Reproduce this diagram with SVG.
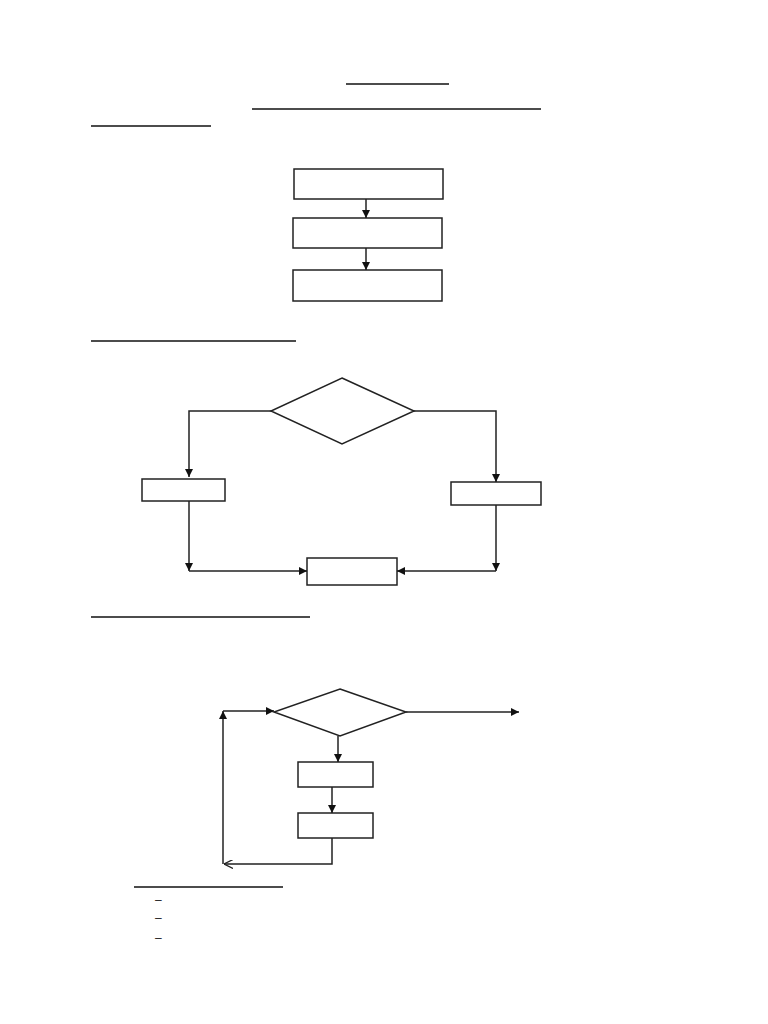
<svg xmlns="http://www.w3.org/2000/svg" width="768" height="1024" viewBox="0 0 768 1024">
<style>
.n{fill:#fff;stroke:#222;stroke-width:1.5}
.c{fill:none;stroke:#222;stroke-width:1.5}
.u{stroke:#111;stroke-width:1.5}
.t{font-family:"Liberation Sans",Arial,sans-serif;font-size:12px;fill:#222}
</style>
<defs>
<marker id="a" viewBox="0 0 10 10" refX="10" refY="5" markerWidth="8" markerHeight="8" markerUnits="userSpaceOnUse" orient="auto"><path d="M0,0L10,5L0,10z" fill="#111"/></marker>
<marker id="o" viewBox="0 0 10 10" refX="10" refY="5" markerWidth="9" markerHeight="9" markerUnits="userSpaceOnUse" orient="auto"><path d="M0,0L10,5L0,10" fill="none" stroke="#222" stroke-width="1.4"/></marker>
</defs>
<rect width="768" height="1024" fill="#fff"/>
<g id="underlines">
<line class="u" x1="346" y1="84" x2="449" y2="84"/>
<line class="u" x1="252" y1="109" x2="541" y2="109" stroke-width="2.4"/>
<line class="u" x1="91" y1="126" x2="211" y2="126"/>
<line class="u" x1="91" y1="341" x2="296" y2="341" stroke-width="2"/>
<line class="u" x1="91" y1="617" x2="310" y2="617"/>
<line class="u" x1="134" y1="887" x2="283" y2="887" stroke-width="2.2"/>
</g>
<g id="s1-box1"><rect class="n" x="294" y="169" width="149" height="30"/></g>
<g id="s1-box2"><rect class="n" x="293" y="218" width="149" height="30"/></g>
<g id="s1-box3"><rect class="n" x="293" y="270" width="149" height="31"/></g>
<g id="s2-diamond"><polygon class="n" points="342,378 414,411 342,444 271,411"/></g>
<g id="s2-left"><rect class="n" x="142" y="479" width="83" height="22"/></g>
<g id="s2-right"><rect class="n" x="451" y="482" width="90" height="23"/></g>
<g id="s2-join"><rect class="n" x="307" y="558" width="90" height="27"/></g>
<g id="s3-diamond"><polygon class="n" points="340,689 406,712 340,736 274,712"/></g>
<g id="s3-box1"><rect class="n" x="298" y="762" width="75" height="25"/></g>
<g id="s3-box2"><rect class="n" x="298" y="813" width="75" height="25"/></g>
<g id="connectors">
<line class="c" x1="366" y1="199" x2="366" y2="218" marker-end="url(#a)"/>
<line class="c" x1="366" y1="248" x2="366" y2="270" marker-end="url(#a)"/>
<polyline class="c" points="271,411 189,411 189,477" marker-end="url(#a)"/>
<polyline class="c" points="414,411 496,411 496,482" marker-end="url(#a)"/>
<line class="c" x1="189" y1="501" x2="189" y2="571" marker-end="url(#a)"/>
<line class="c" x1="189" y1="571" x2="307" y2="571" marker-end="url(#a)"/>
<line class="c" x1="496" y1="505" x2="496" y2="571" marker-end="url(#a)"/>
<line class="c" x1="496" y1="571" x2="397" y2="571" marker-end="url(#a)"/>
<line class="c" x1="406" y1="712" x2="519" y2="712" marker-end="url(#a)"/>
<line class="c" x1="338" y1="736" x2="338" y2="762" marker-end="url(#a)"/>
<line class="c" x1="332" y1="787" x2="332" y2="813" marker-end="url(#a)"/>
<polyline class="c" points="332,838 332,864 224,864" marker-end="url(#o)"/>
<line class="c" x1="223" y1="864" x2="223" y2="711" marker-end="url(#a)"/>
<line class="c" x1="223" y1="711" x2="274" y2="711" marker-end="url(#a)"/>
</g>
<g id="bullets">
<text class="t" x="155" y="904">–</text>
<text class="t" x="155" y="922">–</text>
<text class="t" x="155" y="942">–</text>
</g>
</svg>
